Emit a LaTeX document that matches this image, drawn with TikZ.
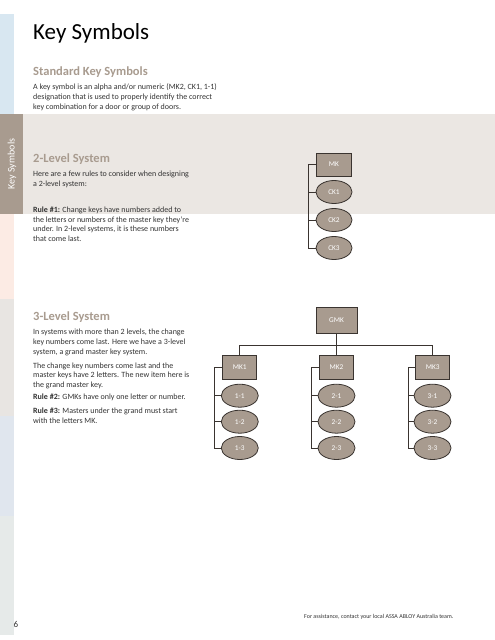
\documentclass[tikz,border=0pt]{standalone}
\usepackage{fontspec}
\setmainfont{Carlito}
\usetikzlibrary{shapes.geometric}
\definecolor{keybrown}{HTML}{A89B8F}
\definecolor{keyline}{HTML}{3A3430}
\definecolor{bodygray}{HTML}{333333}
\definecolor{bandbeige}{HTML}{EBE7E3}
\definecolor{stripblue}{HTML}{D8E7F1}
\definecolor{strippeach}{HTML}{FCEBE4}
\definecolor{stripgray}{HTML}{E8E5E2}
\definecolor{stripslate}{HTML}{E0E6EE}
\definecolor{stripgreen}{HTML}{E6EAE9}

\begin{document}
\begin{tikzpicture}[x=1pt, y=-1pt, every node/.style={inner sep=0pt},
	body/.style={anchor=north west, align=left, font=\fontsize{8}{9.7}\selectfont, text=bodygray},
	head/.style={anchor=base west, font=\fontsize{12.5}{14}\selectfont\bfseries, text=keybrown},
	master/.style={draw=keyline, fill=keybrown, line width=0.8pt, text=white, font=\fontsize{7.3}{8}\selectfont},
	change/.style={ellipse, draw=keyline, fill=keybrown, line width=0.8pt, minimum width=37pt, minimum height=23pt, text=white, font=\fontsize{7.3}{8}\selectfont},
	link/.style={draw=keyline, line width=0.8pt}]
	\useasboundingbox (0,0) rectangle (495,640);
	\fill[white] (0,0) rectangle (495,640);
	\fill[bandbeige] (14,114) rectangle (495,214);
	\fill[stripblue] (0,14) rectangle (14,114);
	\fill[strippeach] (0,214) rectangle (14,299);
	\fill[stripgray] (0,299) rectangle (14,416);
	\fill[stripslate] (0,416) rectangle (14,516);
	\fill[stripgreen] (0,516) rectangle (14,635);
	\fill[keybrown] (0,114) rectangle (23,214);
	\node[rotate=90, text=white, font=\fontsize{10}{12}\selectfont] (tab) at (12,164) {Key Symbols};
	\node[anchor=base west, font=\fontsize{23}{26}\selectfont, text=black] (title) at (33,39.3) {Key Symbols};

	\node[head] (h-standard) at (33,75) {Standard Key Symbols};
	\node[body] (p-standard) at (33,83.7) {A key symbol is an alpha and/or numeric (MK2, CK1, 1-1)\\designation that is used to properly identify the correct\\key combination for a door or group of doors.};

	\node[head] (h-two) at (33,162.3) {2-Level System};
	\node[body] (p-two) at (33,170.7) {Here are a few rules to consider when designing\\a 2-level system:};
	\node[body] (p-rule1) at (33,206.7) {\textbf{Rule \#1:} Change keys have numbers added to\\the letters or numbers of the master key they're\\under. In 2-level systems, it is these numbers\\that come last.};

	\node[head] (h-three) at (33,320) {3-Level System};
	\node[body] (p-three) at (33,329) {In systems with more than 2 levels, the change\\key numbers come last. Here we have a 3-level\\system, a grand master key system.};
	\node[body] (p-grand) at (33,362.3) {The change key numbers come last and the\\master keys have 2 letters. The new item here is\\the grand master key.};
	\node[body] (p-rule2) at (33,394) {\textbf{Rule \#2:} GMKs have only one letter or number.};
	\node[body] (p-rule3) at (33,408) {\textbf{Rule \#3:} Masters under the grand must start\\with the letters MK.};

	\node[master, minimum width=35pt, minimum height=23pt] (mk) at (334,164.5) {MK};
	\node[change, minimum width=36pt] (ck1) at (334,192) {CK1};
	\node[change, minimum width=36pt] (ck2) at (334,220) {CK2};
	\node[change, minimum width=36pt] (ck3) at (334,248) {CK3};
	\coordinate (mk-trunk) at (308.7,164.5);
	\draw[link] (mk.west) -- (mk-trunk) |- (ck3.west);
	\draw[link] (mk-trunk |- ck1.west) -- (ck1.west);
	\draw[link] (mk-trunk |- ck2.west) -- (ck2.west);

	\node[master, minimum width=41pt, minimum height=26pt] (gmk) at (336.5,320) {GMK};
	\node[master, minimum width=34pt, minimum height=24pt] (mk1) at (239.7,367.5) {MK1};
	\node[master, minimum width=34pt, minimum height=24pt] (mk2) at (336.5,367.5) {MK2};
	\node[master, minimum width=34pt, minimum height=24pt] (mk3) at (432.7,367.5) {MK3};
	\coordinate (bus) at (336.5,345.7);
	\draw[link] (gmk.south) -- (mk2.north);
	\draw[link] (mk1.north) |- (bus) -| (mk3.north);

	\node[change] (k11) at (239.8,395.7) {1-1};
	\node[change] (k12) at (239.8,421.7) {1-2};
	\node[change] (k13) at (239.8,448) {1-3};
	\node[change] (k21) at (336.5,395.7) {2-1};
	\node[change] (k22) at (336.5,421.7) {2-2};
	\node[change] (k23) at (336.5,448) {2-3};
	\node[change] (k31) at (432.5,395.7) {3-1};
	\node[change] (k32) at (432.5,421.7) {3-2};
	\node[change] (k33) at (432.5,448) {3-3};

	\coordinate (mk1-trunk) at (214.7,367.5);
	\coordinate (mk2-trunk) at (311.3,367.5);
	\coordinate (mk3-trunk) at (408.7,367.5);
	\draw[link] (mk1.west) -- (mk1-trunk) |- (k13.west);
	\draw[link] (mk1-trunk |- k11.west) -- (k11.west);
	\draw[link] (mk1-trunk |- k12.west) -- (k12.west);
	\draw[link] (mk2.west) -- (mk2-trunk) |- (k23.west);
	\draw[link] (mk2-trunk |- k21.west) -- (k21.west);
	\draw[link] (mk2-trunk |- k22.west) -- (k22.west);
	\draw[link] (mk3.west) -- (mk3-trunk) |- (k33.west);
	\draw[link] (mk3-trunk |- k31.west) -- (k31.west);
	\draw[link] (mk3-trunk |- k32.west) -- (k32.west);

	\node[anchor=base, font=\fontsize{9}{11}\selectfont, text=bodygray] (page) at (16,627) {6};
	\node[anchor=base west, font=\fontsize{6}{7}\selectfont, text=bodygray] (footer) at (304,618) {For assistance, contact your local ASSA ABLOY Australia team.};
\end{tikzpicture}
\end{document}
